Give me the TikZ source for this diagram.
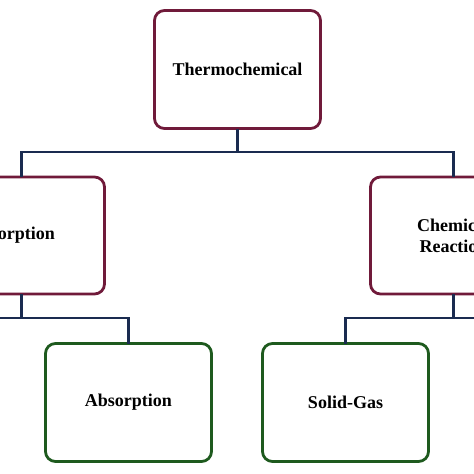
\documentclass[tikz,border=0pt]{standalone}
\usepackage{fontspec}
\setmainfont{Liberation Serif}
\definecolor{boxred}{HTML}{701A3A}
\definecolor{boxgreen}{HTML}{1E5A1E}
\definecolor{linknavy}{HTML}{1A2B50}
\begin{document}
\begin{tikzpicture}[x=1pt,y=-1pt,
  box/.style={draw, line width=2.8pt, rounded corners=10pt, minimum width=166pt, minimum height=118pt,
    inner sep=0pt, outer sep=0pt, align=center, font=\fontsize{18}{21}\selectfont\bfseries, text=black},
  redbox/.style={box, draw=boxred},
  greenbox/.style={box, draw=boxgreen},
  link/.style={draw=linknavy, line width=2.8pt}]
\useasboundingbox (0,0) rectangle (474,474);
\clip (0,0) rectangle (474,474);
\fill[white] (0,0) rectangle (474,474);
\node[redbox] (top) at (237.5,69.5) {Thermochemical};
\node[redbox, minimum height=117pt] (ads) at (21.5,235.5) {\hspace*{-20pt}Adsorption};
\node[redbox, minimum height=117pt] (chem) at (453.5,235.5) {Chemical\\Reaction};
\node[greenbox] (abs) at (128.5,402.5) {Absorption};
\node[greenbox] (sg) at (345.5,402.5) {Solid-Gas};
\coordinate (bus) at (237.5,152);
\coordinate (lbus) at (21.5,318);
\coordinate (rbus) at (453.5,318);
\coordinate (lfree) at (-30,318);
\coordinate (rfree) at (504,318);
\draw[link] (top.south) -- (bus);
\draw[link] (bus) -| (ads.north);
\draw[link] (bus) -| (chem.north);
\draw[link] (ads.south) -- (lbus);
\draw[link] (lbus) -| (abs.north);
\draw[link] (lbus) -- (lfree);
\draw[link] (chem.south) -- (rbus);
\draw[link] (rbus) -| (sg.north);
\draw[link] (rbus) -- (rfree);
\end{tikzpicture}
\end{document}
